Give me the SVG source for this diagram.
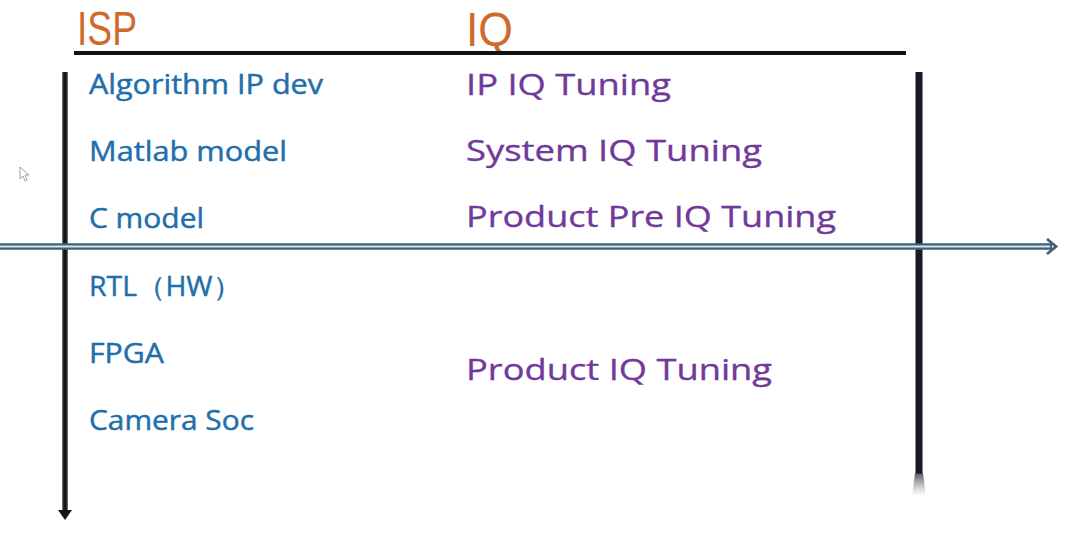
<svg xmlns="http://www.w3.org/2000/svg" width="1080" height="547" viewBox="0 0 1080 547">
<style>
.head{font-family:"Liberation Sans","Open Sans",sans-serif;fill:#cd6a2c;font-size:48px}
.isp{font-family:"Open Sans","Liberation Sans",sans-serif;fill:#1f6fab;stroke:#1f6fab;stroke-width:0.45px;font-size:27px}
.iq{font-family:"Open Sans","Liberation Sans",sans-serif;fill:#71399a;stroke:#71399a;stroke-width:0.35px;font-size:30px}
</style>
<defs>
<linearGradient id="fade" x1="0" y1="0" x2="0" y2="1">
<stop offset="0" stop-color="#3a3a44" stop-opacity="0.85"/>
<stop offset="1" stop-color="#8a8a90" stop-opacity="0"/>
</linearGradient>
</defs>
<rect x="0" y="0" width="1080" height="547" fill="#ffffff"/>
<g id="headers">
<text class="head" x="77" y="44.5" textLength="60" lengthAdjust="spacingAndGlyphs">ISP</text>
<text class="head" x="466" y="45.5" textLength="47" lengthAdjust="spacingAndGlyphs">IQ</text>
</g>
<g id="isp-column">
<text class="isp" x="89" y="94" textLength="234" lengthAdjust="spacingAndGlyphs">Algorithm IP dev</text>
<text class="isp" x="89" y="161" textLength="198" lengthAdjust="spacingAndGlyphs">Matlab model</text>
<text class="isp" x="89" y="228" textLength="115" lengthAdjust="spacingAndGlyphs">C model</text>
<text class="isp" x="89" y="296" textLength="152" lengthAdjust="spacingAndGlyphs">RTL（HW）</text>
<text class="isp" x="89" y="363" textLength="75" lengthAdjust="spacingAndGlyphs">FPGA</text>
<text class="isp" x="89" y="430" textLength="165" lengthAdjust="spacingAndGlyphs">Camera Soc</text>
</g>
<g id="iq-column">
<text class="iq" x="466" y="95" textLength="205" lengthAdjust="spacingAndGlyphs">IP IQ Tuning</text>
<text class="iq" x="466" y="161" textLength="296" lengthAdjust="spacingAndGlyphs">System IQ Tuning</text>
<text class="iq" x="466" y="227" textLength="370" lengthAdjust="spacingAndGlyphs">Product Pre IQ Tuning</text>
<text class="iq" x="466" y="380" textLength="306" lengthAdjust="spacingAndGlyphs">Product IQ Tuning</text>
</g>
<g id="cursor">
<path d="M20,167 L20,179 L23,176 L25,181 L27,180 L25,175 L29,175 Z" fill="#ffffff" stroke="#8a8a8a" stroke-width="0.8"/>
</g>
<g id="connectors">
<line x1="74" y1="53" x2="906" y2="53" stroke="#111111" stroke-width="4"/>
<line x1="65" y1="72" x2="65" y2="512" stroke="#6a6a6a" stroke-width="6"/>
<line x1="65" y1="72" x2="65" y2="512" stroke="#151515" stroke-width="3.5"/>
<polygon points="58,510 72,510 65,520" fill="#151515"/>
<line x1="919" y1="72" x2="919" y2="474" stroke="#181826" stroke-width="7"/>
<polygon points="915,473 923,473 926,496 912,496" fill="url(#fade)"/>
<line x1="0" y1="246.5" x2="1052" y2="246.5" stroke="#3f6078" stroke-width="6.5"/>
<line x1="0" y1="246.5" x2="1050" y2="246.5" stroke="#d6e6ef" stroke-width="2.2"/>
<polyline points="1047,239 1056,246.5 1047,254" fill="none" stroke="#3f6078" stroke-width="2.8" stroke-linejoin="miter"/>
</g>
</svg>
